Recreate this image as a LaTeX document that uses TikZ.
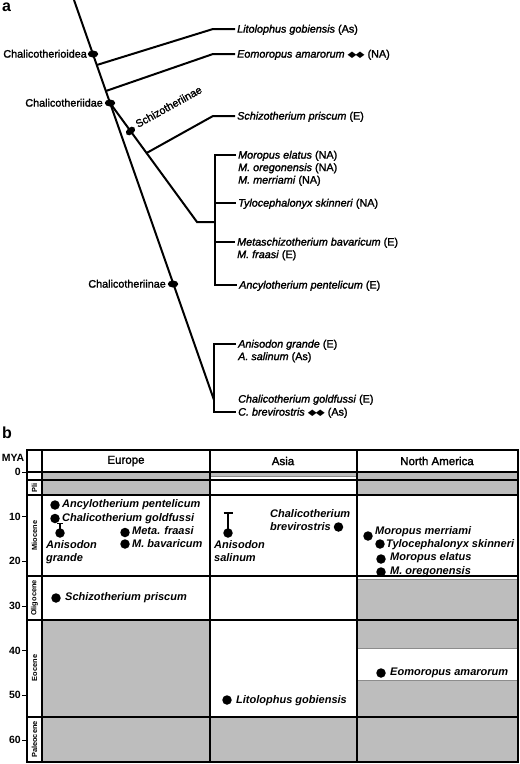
\documentclass[tikz,border=0pt]{standalone}
\usepackage{fontspec}
\setmainfont{Liberation Sans}
\newfontfamily\medsans[FakeBold=1.8]{Liberation Sans}
\newfontfamily\symfont{DejaVu Sans}
\usetikzlibrary{shapes.geometric}
\definecolor{cellgray}{HTML}{BDBDBD}
\definecolor{celledge}{HTML}{8C8C8C}
\newcommand{\dmd}{{\symfont\fontsize{9}{9}\selectfont\scalebox{1.3}[0.95]{◆\kern-0.8pt◆}}}
\begin{document}
\begin{tikzpicture}[x=1pt,y=-1pt,
  tree/.style={line width=2pt},
  lab/.style={font=\medsans\fontsize{10.8}{12}\selectfont, inner sep=2pt, text height=7.6pt, text depth=0.4pt},
  sp/.style={lab, anchor=west},
  clade/.style={lab, anchor=east},
  cdot/.style={ellipse, fill=black, minimum width=10.5pt, minimum height=7pt, inner sep=0pt},
  panel/.style={font=\fontsize{16}{16}\selectfont\bfseries, inner sep=0pt, anchor=base west},
  cell/.style={fill=cellgray, draw=celledge, line width=0.6pt},
  grid/.style={line width=1.4pt},
  outer/.style={line width=1.9pt},
  hdr/.style={font=\medsans\fontsize{11.5}{12}\selectfont, inner sep=0pt},
  tick/.style={font=\fontsize{10.5}{11}\selectfont\bfseries, inner sep=1pt, anchor=east, text height=7.4pt, text depth=0pt},
  per/.style={font=\fontsize{7.4}{8}\selectfont\bfseries, rotate=90, inner sep=0pt},
  tsp/.style={font=\fontsize{11}{12}\selectfont\bfseries\itshape, anchor=west, inner sep=0pt, text height=7.6pt, text depth=0.4pt},
  fdot/.style={circle, fill=black, minimum size=9.5pt, inner sep=0pt},
  ebar/.style={line width=1.7pt}
]
\useasboundingbox (0,0) rectangle (520,764);

% ---------------- panel a ----------------
\node[panel] (pa) at (2,11.7) {a};

% taxa
\node[sp] (lit) at (235,29) {\textit{Litolophus gobiensis} (As)};
\node[sp] (eom) at (235,54) {\textit{Eomoropus amarorum} \dmd{} (NA)};
\node[sp] (sch) at (235,116) {\textit{Schizotherium priscum} (E)};
\node[sp] (mor1) at (236,155) {\textit{Moropus elatus} (NA)};
\node[sp] (mor2) at (236,167.5) {\textit{M. oregonensis} (NA)};
\node[sp] (mor3) at (236,180) {\textit{M. merriami} (NA)};
\node[sp] (tyl) at (236,203) {\textit{Tylocephalonyx skinneri} (NA)};
\node[sp] (met1) at (235,242) {\textit{Metaschizotherium bavaricum} (E)};
\node[sp] (met2) at (235,254.5) {\textit{M. fraasi} (E)};
\node[sp] (anc) at (237,285) {\textit{Ancylotherium pentelicum} (E)};
\node[sp] (ani1) at (236,344) {\textit{Anisodon grande} (E)};
\node[sp] (ani2) at (236,356.5) {\textit{A. salinum} (As)};
\node[sp] (cha1) at (236,399) {\textit{Chalicotherium goldfussi} (E)};
\node[sp] (cha2) at (236,412) {\textit{C. brevirostris} \dmd{} (As)};

% skeleton
\coordinate (top) at (74,0);
\coordinate (jC) at (214,400);
\coordinate (bL) at (96.8,65);
\coordinate (kL) at (213,29);
\coordinate (bE) at (105.9,91);
\coordinate (kE) at (213,54);
\coordinate (S) at (110,103);
\coordinate (jS) at (197,222);
\coordinate (bS) at (146.6,153);
\coordinate (kS) at (213,116);
\coordinate (jM) at (215,222);

\draw[tree] (top) -- (jC);
\draw[tree] (bL) -- (kL) -- (lit.west);
\draw[tree] (bE) -- (kE) -- (eom.west);
\draw[tree] (S) -- (jS) -- (jM);
\draw[tree] (bS) -- (kS) -- (sch.west);
\draw[tree] (mor1.west) -| (jM) |- (anc.west);
\draw[tree] (jM |- tyl.west) -- (tyl.west);
\draw[tree] (jM |- met1.west) -- (met1.west);
\draw[tree] (ani1.west) -| (jC) |- (cha2.west);

% clade dots and labels
\node[cdot] (dA) at (93,54) {};
\node[clade] (lA) at (89,54) {Chalicotherioidea};
\node[cdot] (dB) at (110,103) {};
\node[clade] (lB) at (105,103) {Chalicotheriidae};
\node[cdot, rotate=40] (dC) at (130.5,131) {};
\node[font=\medsans\fontsize{10.8}{12}\selectfont, inner sep=0pt, rotate=29, anchor=base west] (lC) at (138,128) {Schizotheriinae};
\node[cdot] (dD) at (173,284) {};
\node[clade] (lD) at (168,284) {Chalicotheriinae};

% ---------------- panel b ----------------
\node[panel] (pb) at (2,438) {b};

% grey cells
\draw[cell] (42,472) rectangle (210,480);
\draw[cell] (42,480) rectangle (210,495);
\draw[cell] (42,620) rectangle (210,717);
\draw[cell] (42,717) rectangle (210,762);
\draw[cell] (210,472) rectangle (357,476.5);
\draw[cell] (210,717) rectangle (357,762);
\draw[cell] (357,472) rectangle (518,480);
\draw[cell] (357,480) rectangle (518,495);
\draw[cell] (357,579.5) rectangle (518,620);
\draw[cell] (357,620) rectangle (518,648);
\draw[cell] (357,680) rectangle (518,717);
\draw[cell] (357,717) rectangle (518,762);

% headers
\node[hdr] (hE) at (126,461) {Europe};
\node[hdr] (hA) at (283,461) {Asia};
\node[hdr] (hN) at (437,461) {North America};

% period labels
\node[per] (pP) at (34.5,487.5) {Pli};
\node[per] (pM) at (34.5,535.5) {Miocene};
\node[per] (pO) at (34.5,598) {Oligocene};
\node[per] (pE) at (34.5,668) {Eocene};
\node[per] (pL) at (34.5,739.5) {Paleocene};

% time axis
\node[font=\fontsize{10.5}{11}\selectfont\bfseries, inner sep=0pt] (mya) at (13,458) {MYA};
\foreach \v/\yy in {0/472,10/516.5,20/561,30/606,40/650.5,50/695,60/740}{
  \node[tick] (t\v) at (22,\yy) {\v};
  \draw[line width=1pt] (t\v.east) -- ++(5,0);
}

% Europe
\node[fdot] (eAd) at (55,505) {};
\node[tsp] (eA) at (62,504) {Ancylotherium pentelicum};
\node[fdot] (eCd) at (55,518.5) {};
\node[tsp] (eC) at (62,518) {Chalicotherium goldfussi};
\coordinate (eGcap) at (60,523);
\node[fdot] (eGd) at (60,533) {};
\draw[ebar] (eGd.center) -- (eGcap);
\draw[line width=1pt] ([xshift=-3pt]eGcap) -- ([xshift=3pt]eGcap);
\node[tsp] (eG1) at (46,545) {Anisodon};
\node[tsp] (eG2) at (46,558) {grande};
\node[fdot] (eFd) at (125,532.5) {};
\node[tsp] (eF) at (132,531) {Meta. fraasi};
\node[fdot] (eBd) at (125,544) {};
\node[tsp] (eB) at (132,544) {M. bavaricum};
\node[fdot] (eSd) at (56,598) {};
\node[tsp] (eS) at (65,597) {Schizotherium priscum};

% Asia
\coordinate (aScap) at (228,513);
\node[fdot] (aSd) at (228,533) {};
\draw[ebar] (aSd.center) -- (aScap);
\draw[line width=1.5pt] ([xshift=-4.5pt]aScap) -- ([xshift=4.5pt]aScap);
\node[tsp] (aS1) at (214,545) {Anisodon};
\node[tsp] (aS2) at (214,558) {salinum};
\node[tsp] (aC1) at (270,514) {Chalicotherium};
\node[tsp] (aC2) at (270,527) {brevirostris};
\node[fdot] (aCd) at (338.5,527) {};
\node[fdot] (aLd) at (227,700) {};
\node[tsp] (aL) at (236,700) {Litolophus gobiensis};

% North America
\node[fdot] (nMd) at (368,536) {};
\node[tsp] (nM) at (375,531) {Moropus merriami};
\node[fdot] (nTd) at (380,544) {};
\node[tsp] (nT) at (386,544) {Tylocephalonyx skinneri};
\node[fdot] (nEd) at (381,559) {};
\node[tsp] (nE) at (390,557) {Moropus elatus};
\node[fdot] (nOd) at (381,572) {};
\node[tsp] (nO) at (390,571) {M. oregonensis};
\node[fdot] (nEod) at (381,673) {};
\node[tsp] (nEo) at (390,672) {Eomoropus amarorum};

% grid
\foreach \yy in {472,480,495,576,620,717}{
  \draw[grid] (27,\yy) -- (518,\yy);
}
\foreach \xx in {42,210,357}{
  \draw[grid] (\xx,450) -- (\xx,762);
}
\draw[outer] (27,450) rectangle (518,762);
\end{tikzpicture}
\end{document}
